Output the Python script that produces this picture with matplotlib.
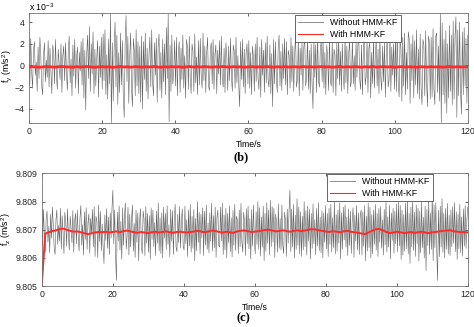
import numpy as np
import matplotlib
matplotlib.use("Agg")
import matplotlib.pyplot as plt

plt.rcParams['font.family'] = ['Liberation Sans', 'DejaVu Sans']
plt.rcParams['mathtext.fontset'] = 'custom'
plt.rcParams['mathtext.rm'] = 'Liberation Sans'
plt.rcParams['mathtext.it'] = 'Liberation Sans'

# f_y without filter, units of 1e-4 m/s^2, one row = 10 s (0.25 s steps)
fy_raw = [
    12,-18,25,-6,-21,14,22,-9,3,-24,17,-12,26,8,-19,-27,10,21,-15,5,
    -11,23,-20,16,-4,-26,19,11,-17,24,-8,-22,15,2,-13,20,-25,9,18,-14,
    21,-7,-23,13,27,-16,6,-28,19,-10,24,-21,8,17,-26,12,-5,22,-18,25,
    -30,14,-41,9,28,-12,36,-24,20,-8,31,-26,15,-19,7,23,-29,18,-11,26,
    -22,29,-14,33,-27,10,-31,24,-17,48,-53,21,-33,15,40,-20,28,-36,12,-25,
    30,-18,23,-29,-48,19,46,-15,27,-35,8,30,-22,-38,25,14,-28,33,-19,22,
    -26,18,-34,27,-40,22,-13,30,-24,16,-31,9,26,-20,33,-16,-28,21,-9,25,
    -34,17,29,-23,12,-30,24,-15,20,-27,35,-12,48,-52,19,-24,28,-17,-8,23,
    -19,26,-28,11,22,-25,16,-13,28,-21,9,-30,24,17,-22,27,-11,-26,20,13,
    -24,29,-16,8,-27,23,-18,25,-9,-21,30,-14,18,-25,12,26,-19,-23,15,21,
    -17,24,-22,10,19,-26,14,-8,23,-18,27,-12,-20,16,-25,21,7,-23,18,-14,
    25,-10,-24,19,13,-21,26,-16,9,-19,-38,22,-13,24,-20,15,-26,11,20,-17,
    23,-21,12,-27,18,8,-24,20,-15,26,-11,-22,17,-29,24,-9,14,-25,21,-16,
    27,-13,-20,19,-26,11,-38,24,-17,22,-10,-25,16,28,-19,13,-23,20,-12,25,
    -18,22,-27,14,9,-21,26,-15,18,-24,11,29,-20,-13,24,-28,16,-9,21,-23,
    17,25,-19,-12,27,-22,14,-26,20,-16,-40,23,-11,19,-25,28,-14,-20,16,22,
    -15,24,-21,12,-27,19,8,-23,26,-14,-19,22,-25,15,10,-28,21,-12,27,-18,
    13,-24,20,-9,-22,26,-16,18,-26,11,23,-20,-14,25,-17,9,-23,21,-11,19,
    25,-13,-22,19,-27,14,28,-18,-10,23,-25,16,21,-30,12,-17,26,-21,9,24,
    -19,15,-26,27,-12,-23,18,-15,22,-29,11,25,-20,-14,27,-24,17,-9,20,-22,
    28,-24,31,-15,-29,22,17,-33,26,-19,30,-27,12,-22,31,25,-35,20,-14,28,
    -30,23,-18,33,-26,15,-31,29,-21,-36,24,19,-28,32,-17,-38,27,22,-31,26,
    -29,34,-22,-36,27,30,-25,18,-33,48,-53,39,-27,24,-35,32,-44,20,-30,37,
    -24,28,-36,41,-31,26,45,-48,33,-28,40,-22,-45,31,-27,35,-19,25,-35,28,
]
# f_y with HMM-KF, units of 1e-5 m/s^2, one value per second
fy_kf = [
    -15,-11,-14,-17,-12,-10,-13,-16,-12,-9,
    -14,-13,-17,-11,-15,-12,-10,-14,-16,-13,
    -11,-15,-12,-18,-13,-10,-14,-12,-16,-11,
    -13,-15,-12,-14,-10,-13,-17,-12,-15,-11,
    -14,-12,-16,-13,-10,-15,-12,-14,-11,-13,
    -16,-12,-14,-10,-13,-15,-11,-14,-12,-16,
    -13,-11,-15,-12,-14,-10,-13,-16,-12,-14,
    -11,-15,-13,-12,-16,-10,-14,-12,-15,-13,
    -11,-14,-12,-16,-13,-10,-15,-12,-14,-11,
    -13,-16,-12,-14,-10,-15,-13,-11,-14,-12,
    -16,-13,-11,-15,-12,-14,-17,-12,-13,-15,
    -11,-14,-12,-16,-13,-10,-15,-12,-14,-13,
    -12,
]
# f_z without filter, offset from 9.807 in 1e-5 m/s^2 (0.25 s steps)
fz_raw = [
    45,-60,72,-25,-78,38,66,-44,12,-82,55,-30,80,20,-65,-88,35,70,-52,15,
    -40,76,-68,50,-10,-85,62,28,-58,74,-22,-72,48,5,-46,68,-80,30,58,-50,
    70,-20,-76,42,86,-55,18,-90,64,-35,78,-70,25,56,-84,40,-15,72,-60,82,
    -95,48,30,-100,88,-42,65,-75,20,-58,-120,52,-38,75,-66,45,-88,60,-30,78,
    140,-50,70,-95,-180,62,-40,85,-72,30,-105,78,-55,45,95,-68,-20,80,-90,55,
    -62,38,88,-76,22,-98,70,-45,60,-110,32,75,-58,-85,66,40,-92,82,-48,58,
    -80,50,-105,78,-35,70,-60,25,-92,66,-48,95,-75,42,-85,60,-100,80,-30,58,
    -70,85,-52,18,-96,72,-40,68,-88,36,90,-62,-78,55,-46,82,-66,28,74,-58,
    -72,84,-50,35,-95,70,-58,90,-80,48,-66,72,-110,40,-75,100,-45,62,-86,55,
    -30,78,-92,66,-54,88,-70,24,-82,60,-40,94,-76,50,-64,80,-98,45,70,-56,
    -62,80,-40,95,-88,52,-72,76,-100,58,-46,85,-78,42,-96,68,-55,90,-74,48,
    32,-85,70,-60,94,-42,-80,62,28,-92,75,-50,84,-68,40,-104,72,-58,88,-36,
    -86,64,-52,100,-70,78,-94,46,-62,84,-110,58,-76,96,-48,70,-90,105,-60,82,
    -44,76,-98,55,22,-80,92,-66,40,-72,88,-56,-84,62,35,-95,74,-48,66,140,
    -78,74,-62,90,-100,52,-70,110,-56,80,-86,64,-95,48,-72,100,-60,68,-90,84,
    -40,72,-104,58,-66,92,-50,36,-88,76,-58,96,-74,44,-82,68,-100,60,-45,86,
    -68,58,-95,76,-52,90,-80,42,-64,100,-86,54,-76,70,-48,95,-105,60,-70,80,
    -36,88,-62,45,-92,74,-56,66,-84,30,78,-98,52,-40,86,-72,60,-88,48,70,
    -90,64,-58,86,-110,48,-76,95,-64,80,-100,54,-86,70,-52,90,-72,58,-95,76,
    -44,82,-66,35,-90,72,-54,98,-80,46,-62,88,-104,60,-38,76,-84,66,-50,92,
    -78,100,-58,86,-105,70,-90,54,-76,95,-68,110,-86,58,-120,80,-60,104,-74,62,
    -95,88,-50,76,-112,66,-82,98,-64,44,-100,84,-145,72,-56,105,-88,60,-70,135,
    -110,88,-64,96,-72,-180,70,-96,84,-62,110,-80,58,-100,76,-70,94,-86,52,-92,
    70,-60,82,-48,96,-78,64,-105,55,-68,90,-82,46,-94,74,-58,86,-66,40,80,
]
# f_z with HMM-KF, offset from 9.807 in 1e-5 m/s^2, one value per second
fz_kf = [
    -200,
    -14,-9,-5,-2,2,4,0,-4,-7,-6,
    -9,-12,-16,-13,-10,-8,-9,-7,-10,-8,
    -6,-9,-5,-3,-6,-9,-11,-8,-10,-12,
    -9,-7,-10,-8,-6,-9,-11,-8,-7,-9,
    -10,-8,-6,-4,-7,-9,-6,-3,-5,-8,
    -10,-7,-9,-11,-6,-4,-2,-5,-8,-7,
    -5,-3,-1,0,-3,-6,-4,-2,-5,-7,
    -4,-2,-5,-3,0,2,1,-2,-4,-6,
    -8,-5,-7,-9,-6,-4,-7,-9,-11,-13,
    -16,-10,-4,1,3,-2,-8,-12,-10,-7,
    -9,-12,-10,-8,-11,-9,-7,-10,-12,-9,
    -8,-6,-4,-3,-2,-5,-7,-9,-8,-10,
]
labels = ["Without HMM-KF", "With HMM-KF"]

t_yraw = np.linspace(0, 120, len(fy_raw))
t_zraw = np.linspace(0, 120, len(fz_raw))
t_kf = np.linspace(0, 120, len(fy_kf))

fig = plt.figure(figsize=(4.74, 3.27), dpi=100)
ax1 = fig.add_axes([0.061, 0.624, 0.926, 0.335])
ax2 = fig.add_axes([0.088, 0.125, 0.899, 0.345])

gray = '0.38'
red = '#ff2a2a'

ax1.plot(t_yraw, np.array(fy_raw) / 10, color=gray, lw=0.4)
ax1.plot(t_kf, np.array(fy_kf) / 100, color=red, lw=2.0)
ax1.set_ylim(-5.3, 4.8)
ax1.set_yticks([-4, -2, 0, 2, 4])
ax1.set_ylabel(r'f$_\mathregular{y}$ (m/s$^\mathregular{2}$)', fontsize=6.3)
ax1.yaxis.set_label_coords(-0.035, 0.52)
ax1.set_xlabel('Time/s', fontsize=6.3, labelpad=3)
fig.text(0.061, 1 - 7 / 327, r'x 10$^\mathregular{-3}$', fontsize=6.3, va='center')

ax2.plot(t_zraw, 9.807 + np.array(fz_raw) * 1e-5, color=gray, lw=0.4)
ax2.plot(t_kf, 9.807 + np.array(fz_kf) * 1e-5, color=red, lw=1.4)
ax2.set_ylim(9.805, 9.809)
ax2.set_yticks([9.805, 9.806, 9.807, 9.808, 9.809])
ax2.yaxis.set_major_formatter(matplotlib.ticker.FormatStrFormatter('%.3f'))
ax2.set_ylabel(r'f$_\mathregular{z}$ (m/s$^\mathregular{2}$)', fontsize=6.3)
ax2.yaxis.set_label_coords(-0.067, 0.5)
ax2.set_xlabel('Time/s', fontsize=6.3, labelpad=3)

for ax, anchor in ((ax1, (0.606, 0.985)), (ax2, (0.669, 0.994))):
    ax.set_xlim(0, 120)
    ax.set_xticks(range(0, 121, 20))
    ax.tick_params(direction='in', top=True, right=True, length=2.5, width=0.5,
                   labelsize=6.3, colors='0.15', pad=3)
    for s in ax.spines.values():
        s.set_color('0.45')
        s.set_linewidth(0.6)
    leg = ax.legend(labels, loc='upper left', bbox_to_anchor=anchor, fontsize=6.3,
                    fancybox=False, framealpha=1, edgecolor='0.3', borderaxespad=0,
                    handlelength=2.9, borderpad=0.35, labelspacing=0.35)
    leg.get_frame().set_linewidth(0.6)
    leg.legend_handles[0].set_color('0.55')
    leg.legend_handles[0].set_linewidth(0.7)
    leg.legend_handles[1].set_linewidth(0.8)

fig.text(241 / 474, 1 - 157 / 327, '(b)', fontsize=9, fontweight='bold',
         family='Liberation Serif', ha='center', va='center')
fig.text(243 / 474, 1 - 318 / 327, '(c)', fontsize=9, fontweight='bold',
         family='Liberation Serif', ha='center', va='center')

fig.savefig('out.png', dpi=100)
